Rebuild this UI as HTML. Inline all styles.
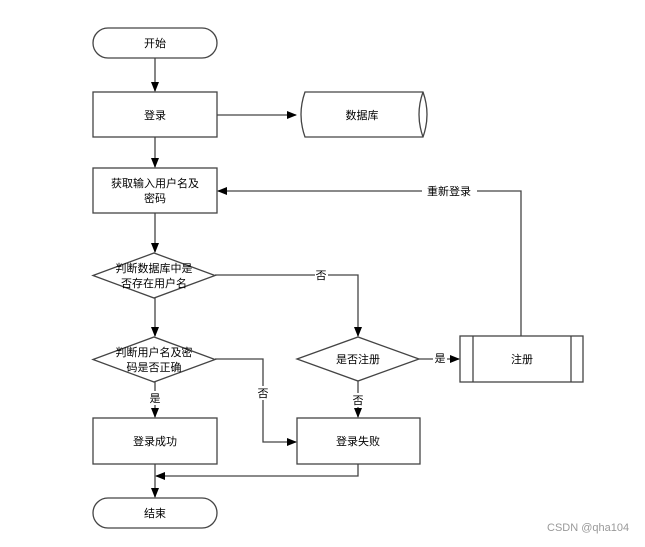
<!DOCTYPE html>
<html><head><meta charset="utf-8"><style>
body{margin:0;background:#fff;}
svg text{font-family:"Liberation Sans","Noto Sans CJK SC",sans-serif;font-size:11px;fill:#000;}
</style></head><body>
<svg width="645" height="542" viewBox="0 0 645 542" xmlns="http://www.w3.org/2000/svg">
<defs><marker id="a" markerWidth="10" markerHeight="8" refX="9" refY="4" orient="auto" markerUnits="userSpaceOnUse"><path d="M0,0 L10,4 L0,8 z" fill="#000"/></marker></defs>
<g fill="none" stroke="#444" stroke-width="1.3">
<rect x="93" y="28" width="124" height="30" rx="15"/>
<rect x="93" y="92" width="124" height="45"/>
<path d="M305,92 L423,92 Q431,114.5 423,137 L305,137 Q297,114.5 305,92 Z"/>
<path d="M423,92 Q415,114.5 423,137"/>
<rect x="93" y="168" width="124" height="45"/>
<polygon points="93,275.5 154,253 215,275.5 154,298"/>
<polygon points="93,359.5 154,337 215,359.5 154,382"/>
<polygon points="297,359 358,337 419,359 358,381"/>
<rect x="460" y="336" width="123" height="46"/>
<line x1="473" y1="336" x2="473" y2="382"/><line x1="571" y1="336" x2="571" y2="382"/>
<rect x="93" y="418" width="124" height="46"/>
<rect x="297" y="418" width="123" height="46"/>
<rect x="93" y="498" width="124" height="30" rx="15"/>
</g>
<g fill="none" stroke="#444" stroke-width="1.3" marker-end="url(#a)">
<line x1="155" y1="58" x2="155" y2="91"/>
<line x1="217" y1="115" x2="296" y2="115"/>
<line x1="155" y1="137" x2="155" y2="167"/>
<line x1="155" y1="213" x2="155" y2="252"/>
<polyline points="215,275 358,275 358,336"/>
<line x1="155" y1="298" x2="155" y2="336"/>
<line x1="419" y1="359" x2="459" y2="359"/>
<polyline points="521,336 521,191 218,191"/>
<line x1="155" y1="382" x2="155" y2="417"/>
<polyline points="215,359 263,359 263,442 296,442"/>
<line x1="358" y1="381" x2="358" y2="417"/>
<polyline points="358,464 358,476 156,476"/>
<line x1="155" y1="464" x2="155" y2="497"/>
</g>
<g fill="#fff">
<rect x="315" y="268" width="13" height="14"/><rect x="433" y="351" width="14" height="14"/>
<rect x="351" y="393" width="14" height="14"/><rect x="256" y="386" width="14" height="14"/>
<rect x="148" y="391" width="14" height="14"/><rect x="422" y="184" width="55" height="14"/>
</g>
<g text-anchor="middle">
<text x="155" y="47">开始</text>
<text x="155" y="119">登录</text>
<text x="362" y="119">数据库</text>
<text x="155" y="187">获取输入用户名及</text>
<text x="155" y="202">密码</text>
<text x="154" y="272">判断数据库中是</text>
<text x="154" y="287">否存在用户名</text>
<text x="154" y="356">判断用户名及密</text>
<text x="154" y="371">码是否正确</text>
<text x="358" y="363">是否注册</text>
<text x="522" y="363" font-size="10">注册</text>
<text x="155" y="445">登录成功</text>
<text x="358" y="445">登录失败</text>
<text x="155" y="517">结束</text>
<text x="321" y="279">否</text>
<text x="440" y="362">是</text>
<text x="358" y="404">否</text>
<text x="263" y="397">否</text>
<text x="155" y="402">是</text>
<text x="449" y="195">重新登录</text>
</g>
<text x="547" y="531" style="font-size:11px;fill:#999">CSDN @qha104</text>
</svg>
</body></html>
